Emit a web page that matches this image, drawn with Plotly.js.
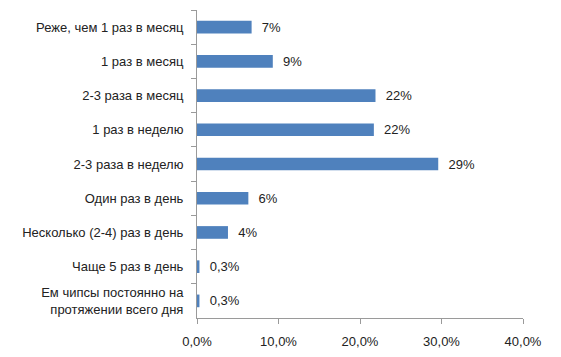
<!DOCTYPE html>
<html>
<head>
<meta charset="utf-8">
<script src="https://cdn.plot.ly/plotly-3.0.1.min.js"></script>
<style>html,body{margin:0;padding:0;background:#fff;}#chart{width:561px;height:357px;}</style>
</head>
<body>
<div id="chart"></div>
<script>
var categories = [
  "Реже, чем 1 раз в месяц",
  "1 раз в месяц",
  "2-3 раза в месяц",
  "1 раз в неделю",
  "2-3 раза в неделю",
  "Один раз в день",
  "Несколько (2-4) раз в день",
  "Чаще 5 раз в день",
  "Ем чипсы постоянно на<br>протяжении всего дня"
];
var values = [0.067, 0.093, 0.219, 0.217, 0.296, 0.063, 0.038, 0.003, 0.003];
var valueLabels = ["7%", "9%", "22%", "22%", "29%", "6%", "4%", "0,3%", "0,3%"];
var xTickVals = [0, 0.1, 0.2, 0.3, 0.4];
var xTickText = ["0,0%", "10,0%", "20,0%", "30,0%", "40,0%"];

var font = {family: "Liberation Sans, Arial, sans-serif", size: 13, color: "#222"};

Plotly.newPlot("chart", [{
  type: "bar",
  orientation: "h",
  y: categories,
  x: values,
  text: valueLabels.map(function(t){ return "  " + t; }),
  textposition: "outside",
  constraintext: "none",
  cliponaxis: false,
  textfont: font,
  marker: {color: "#4F81BD"},
  hoverinfo: "none"
}], {
  width: 561,
  height: 357,
  margin: {l: 197, r: 38, t: 10, b: 39},
  paper_bgcolor: "#fff",
  plot_bgcolor: "#fff",
  showlegend: false,
  bargap: 0.63,
  font: font,
  xaxis: {
    range: [0, 0.4],
    tickvals: xTickVals,
    ticktext: xTickText,
    showgrid: false,
    zeroline: false,
    showline: true,
    linecolor: "#9a9a9a",
    linewidth: 1,
    ticks: "outside",
    ticklen: 5,
    tickcolor: "#9a9a9a",
    ticklabelstandoff: 6,
    tickfont: font
  },
  yaxis: {
    type: "category",
    autorange: "reversed",
    showgrid: false,
    zeroline: false,
    showline: true,
    linecolor: "#9a9a9a",
    linewidth: 1,
    ticks: "outside",
    tickson: "boundaries",
    ticklen: 5,
    tickcolor: "#9a9a9a",
    ticklabelstandoff: 10,
    tickfont: font
  }
}, {staticPlot: true, displayModeBar: false});
</script>
</body>
</html>
